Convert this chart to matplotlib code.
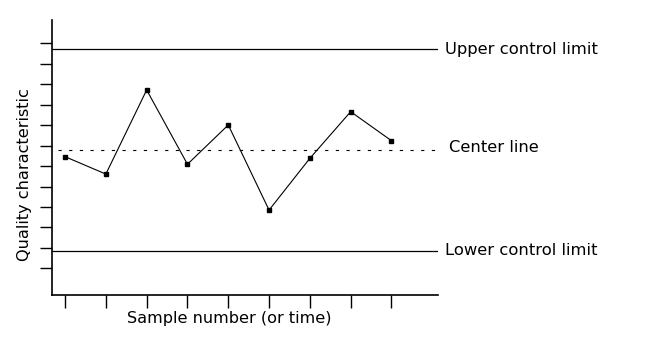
import numpy as np
import matplotlib.pyplot as plt

# sample values (arbitrary units, one unit = one y tick)
samples = [1, 2, 3, 4, 5, 6, 7, 8, 9]
quality = [6.46, 5.61, 9.72, 6.09, 8.01, 3.85, 6.38, 8.66, 7.24]
ucl = 11.72
center = 6.81
lcl = 1.86
y_ticks = list(range(1, 13))
limit_labels = ["Upper control limit", "Center line", "Lower control limit"]

W, H = 653, 343
fig = plt.figure(figsize=(W/100, H/100), dpi=100)
ax = fig.add_axes([52/W, 48/H, 386/W, 275/H])

ax.set_xlim(0.68, 10.14)
ax.set_ylim(-0.3, 13.14)

ax.axhline(ucl, color='black', lw=0.9)
ax.axhline(lcl, color='black', lw=0.9)
ax.plot([0.83, 10.14], [center, center], color='black', lw=0.8,
        linestyle=(0, (2.9, 6.7)))

ax.plot(samples, quality, color='black', lw=0.8, marker='s', markersize=2.2)

# labels to the right of the lines
fs = 11.8
ax.text(10.3, ucl, limit_labels[0], va='center', ha='left', fontsize=fs, clip_on=False)
ax.text(10.4, center + 0.1, limit_labels[1], va='center', ha='left', fontsize=fs, clip_on=False)
ax.text(10.3, lcl, limit_labels[2], va='center', ha='left', fontsize=fs, clip_on=False)

ax.spines['top'].set_visible(False)
ax.spines['right'].set_visible(False)
ax.spines['left'].set_linewidth(1.2)
ax.spines['bottom'].set_linewidth(1.2)

ax.set_xticks(samples)
ax.set_yticks(y_ticks)
ax.set_xticklabels([])
ax.set_yticklabels([])
ax.tick_params(axis='y', direction='out', length=8.6, width=1.0)
ax.tick_params(axis='x', direction='out', length=9.4, width=1.0)

# axis titles placed where they sit in the original
fig.text(229/W, 1 - 318/H, 'Sample number (or time)', ha='center', va='center', fontsize=11.6)
fig.text(24/W, 1 - 175/H, 'Quality characteristic', ha='center', va='center',
         rotation=90, fontsize=11.6)

plt.savefig('out.png', dpi=100)
